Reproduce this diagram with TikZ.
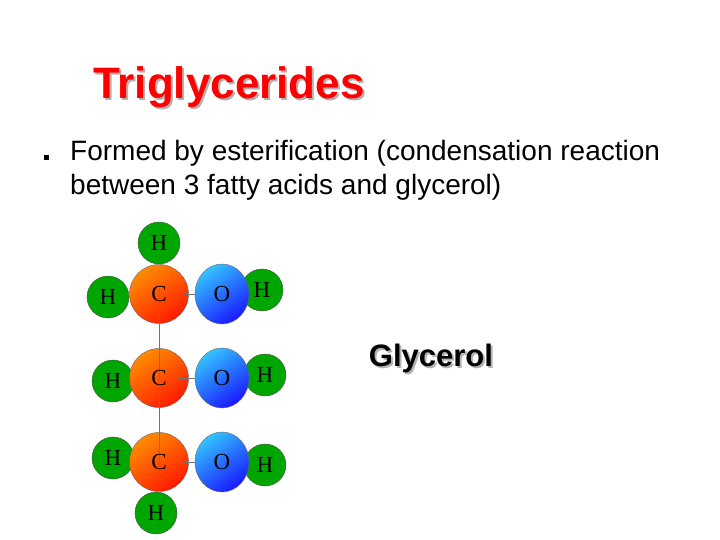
\documentclass[tikz,border=0pt]{standalone}
\usepackage{fontspec}
\usetikzlibrary{shapes.geometric}
\setmainfont{Liberation Serif}
\newfontfamily\arial{Liberation Sans}
\begin{document}
\begin{tikzpicture}[x=1pt,y=-1pt,
  hat/.style={circle,draw=black!70,fill=green!65!black,minimum size=42pt,inner sep=0pt,font=\fontsize{23}{24}\selectfont},
  cat/.style={circle,draw=black!60,minimum size=59pt,inner sep=0pt,top color=orange!90!yellow,bottom color=red!80!orange,shading angle=35},
  oat/.style={ellipse,draw=black!60,minimum width=54pt,minimum height=60pt,inner sep=0pt,top color=cyan!70!blue!80,bottom color=blue!90,shading angle=35,font=\fontsize{23}{24}\selectfont},
  clab/.style={font=\fontsize{23}{24}\selectfont},
  bond/.style={draw=black!55,line width=0.8pt}]
\useasboundingbox (0,0) rectangle (720,540);
\fill[white] (0,0) rectangle (720,540);
\node (tsh) at (231,89) {\arial\bfseries\fontsize{44}{48}\selectfont\color{black!30}Triglycerides};
\node (title) at (229,87) {\arial\bfseries\fontsize{44}{48}\selectfont\color{red}Triglycerides};
\node[fill=black,minimum size=5pt,inner sep=0pt] (bul) at (46,158) {};
\node[anchor=north west,align=left,inner sep=0pt,font=\arial\fontsize{28}{34}\selectfont] (txt) at (70,140) {Formed by esterification (condensation reaction\\between 3 fatty acids and glycerol)};
\node (gsh) at (433,360) {\arial\bfseries\fontsize{31}{34}\selectfont\color{black!30}Glycerol};
\node (gly) at (431,358) {\arial\bfseries\fontsize{31}{34}\selectfont Glycerol};
% hydrogens
\node[hat] (h1) at (159,243) {H};
\node[hat] (h2) at (108,297) {H};
\node[hat] (h3) at (262,290) {H};
\node[hat] (h4) at (113,381) {H};
\node[hat] (h5) at (265,375) {H};
\node[hat] (h6) at (113,458) {H};
\node[hat] (h7) at (265,465) {H};
\node[hat] (h8) at (156,513) {H};
\coordinate (c1p) at (159,294);
\coordinate (c2p) at (159,378);
\coordinate (c3p) at (159,462);
\node[cat] (c1) at (c1p) {};
\node[cat] (c2) at (c2p) {};
\node[cat] (c3) at (c3p) {};
\draw[bond] ([yshift=6pt]c1p) -- ([yshift=-6pt]c2p);
\draw[bond] ([yshift=6pt]c2p) -- ([yshift=-6pt]c3p);
\node[oat] (o1) at (222,294) {O};
\node[oat] (o2) at (222,378) {O};
\node[oat] (o3) at (222,462) {O};
\draw[bond] ([xshift=24pt]c1p) -- (o1.west);
\draw[bond] ([xshift=18pt]c2p) -- (o2.west);
\draw[bond] ([xshift=24pt]c3p) -- (o3.west);
\node[clab] (l1) at (c1p) {C};
\node[clab] (l2) at (c2p) {C};
\node[clab] (l3) at (c3p) {C};
\end{tikzpicture}
\end{document}
